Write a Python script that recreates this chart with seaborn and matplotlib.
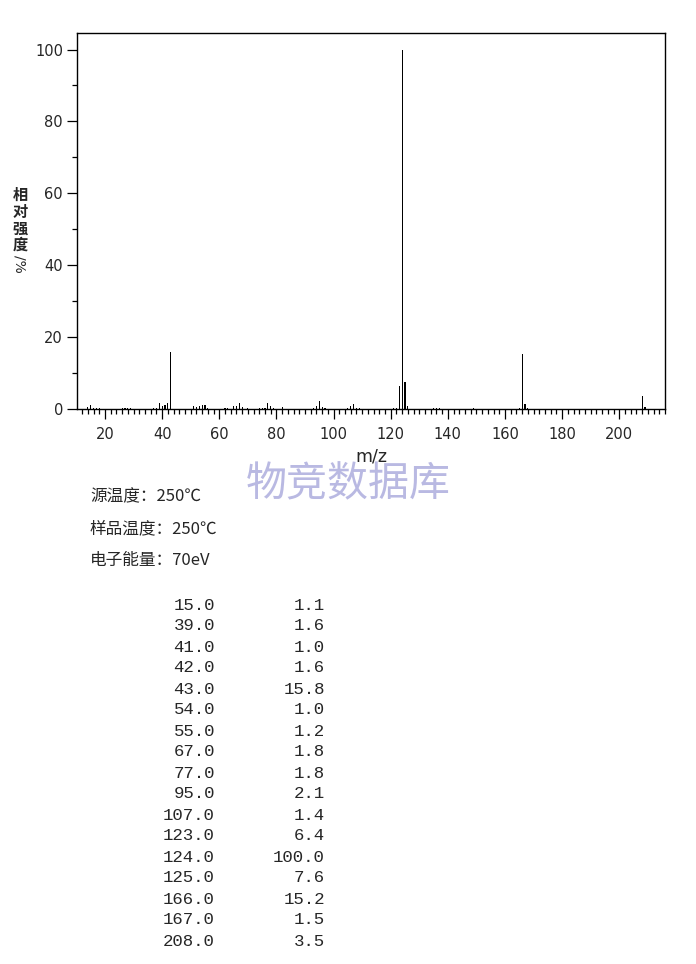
import numpy as np
import pandas as pd
import matplotlib
matplotlib.use("Agg")
import matplotlib.pyplot as plt
import seaborn as sns
from matplotlib.ticker import MultipleLocator

# ==================== DATA ====================
mz = [14, 15, 16, 17, 18, 26, 27, 28, 29, 37, 38, 39, 40, 41, 42, 43,
      51, 52, 53, 54, 55, 56, 62, 63, 65, 66, 67, 68, 70, 74, 75, 76, 77, 78, 79, 82,
      93, 94, 95, 96, 97, 105, 106, 107, 108, 109, 121, 122, 123, 124, 125, 126,
      135, 136, 137, 149, 165, 166, 167, 168, 208, 209]
intensity = [0.5, 1.1, 0.3, 0.3, 0.3, 0.3, 0.3, 0.3, 0.3, 0.3, 0.3, 1.6, 0.8, 1.0, 1.6, 15.8,
             0.8, 0.5, 0.8, 1.0, 1.2, 0.3, 0.3, 0.3, 0.8, 0.9, 1.8, 0.5, 0.3, 0.3, 0.3, 0.3, 1.8, 0.7, 0.3, 0.5,
             0.3, 0.8, 2.1, 0.5, 0.3, 0.3, 0.8, 1.4, 0.3, 0.3, 0.3, 0.3, 6.4, 100.0, 7.6, 0.8,
             0.3, 0.3, 0.3, 0.3, 0.3, 15.2, 1.5, 0.3, 3.5, 0.5]

table_mz = ["15.0", "39.0", "41.0", "42.0", "43.0", "54.0", "55.0", "67.0", "77.0",
            "95.0", "107.0", "123.0", "124.0", "125.0", "166.0", "167.0", "208.0"]
table_int = ["1.1", "1.6", "1.0", "1.6", "15.8", "1.0", "1.2", "1.8", "1.8",
             "2.1", "1.4", "6.4", "100.0", "7.6", "15.2", "1.5", "3.5"]

conditions = ["源温度：250℃", "样品温度：250℃", "电子能量：70eV"]

# ==================== PLOT ====================
sns.set_style("ticks")
plt.rcParams['font.family'] = ['DejaVu Sans', 'Noto Sans CJK SC']

W, H = 696, 964
fig = plt.figure(figsize=(W / 100, H / 100), dpi=100)
ax = fig.add_axes([77 / W, 1 - 409 / H, (665 - 77) / W, (409 - 33) / H])

df = pd.DataFrame({"mz": mz, "int": intensity})
sns.barplot(data=df, x="mz", y="int", native_scale=True, width=0.38,
            color="black", linewidth=0, saturation=1, ax=ax)
for p in ax.patches:
    p.set_antialiased(False)

ax.set_xlim(10.2, 216)
ax.set_ylim(0, 104.6)
ax.xaxis.set_major_locator(MultipleLocator(20))
ax.xaxis.set_minor_locator(MultipleLocator(2))
ax.yaxis.set_major_locator(MultipleLocator(20))
ax.yaxis.set_minor_locator(MultipleLocator(10))
ax.tick_params(which="major", direction="out", length=7, width=0.9, labelsize=10.5, pad=3, color="black")
ax.tick_params(which="minor", direction="out", length=3.8, width=0.9, color="black")
ax.tick_params(axis="x", which="major", pad=6)
for s in ax.spines.values():
    s.set_visible(True)
    s.set_linewidth(1.0)
    s.set_color("black")
ax.set_xlabel("m/z", fontsize=12.5, labelpad=4)
ax.set_ylabel("")

# vertical y label
fig.text(20 / W, 1 - 220 / H, "相\n对\n强\n度", fontsize=11, fontweight="bold",
         family=["Noto Sans CJK SC"], ha="center", va="center", linespacing=1.05)
fig.text(20 / W, 1 - 264 / H, "/%", fontsize=10, rotation=270,
         ha="center", va="center")

# watermark
fig.text(348 / W, 1 - 485 / H, "物竞数据库", fontsize=29.5, color="#b9b9e2",
         family=["Noto Sans CJK SC"], ha="center", va="center")

# conditions
for i, line in enumerate(conditions):
    fig.text(90 / W, 1 - (497 + 31.5 * i) / H, line, fontsize=12,
             family=["Noto Sans CJK SC", "DejaVu Sans"], ha="left", va="center")

# peak table
for i, (a, b) in enumerate(zip(table_mz, table_int)):
    y = 1 - (605 + 21 * i) / H
    fig.text(215 / W, y, a, fontsize=12.5, family=["Liberation Mono"], ha="right", va="center")
    fig.text(325 / W, y, b, fontsize=12.5, family=["Liberation Mono"], ha="right", va="center")

fig.savefig("out.png", dpi=100, facecolor="white")
